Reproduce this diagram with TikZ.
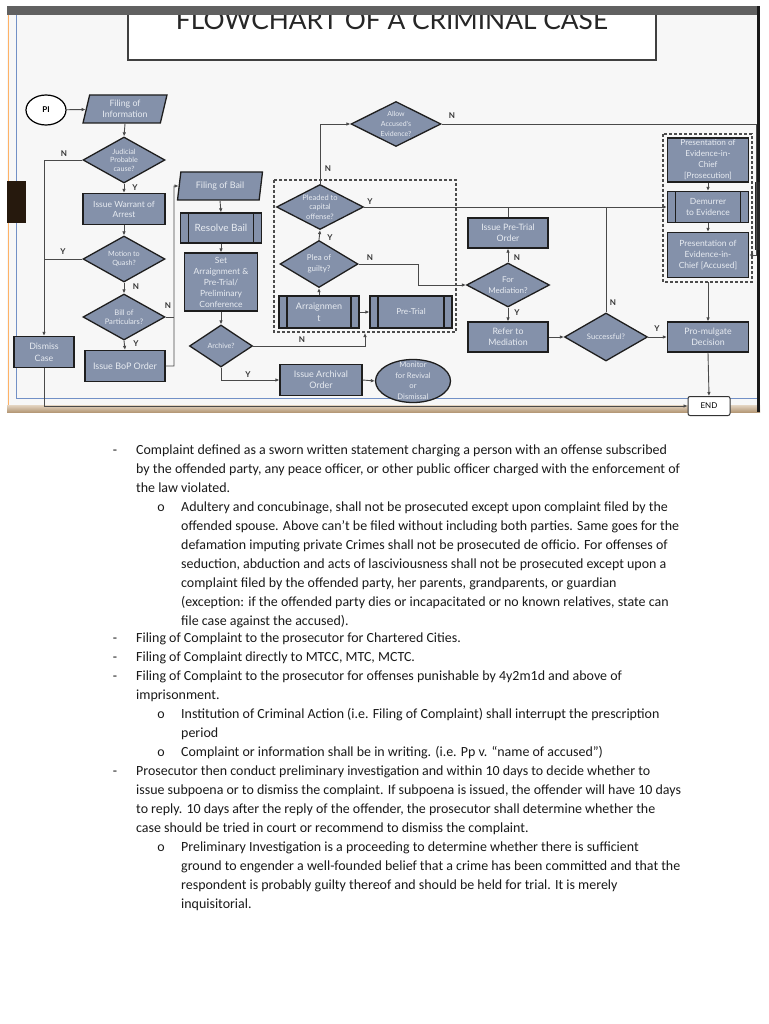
\documentclass[tikz,border=0pt]{standalone}
\usepackage{fontspec}
\usepackage{graphicx}
\setmainfont{Carlito}
\newfontfamily\fcfont{Lato}
\usetikzlibrary{shapes.geometric,arrows.meta}
\definecolor{fcfill}{HTML}{8491AA}
\definecolor{fctext}{HTML}{E8ECF2}
\definecolor{fcline}{HTML}{1E1E1E}
\definecolor{conn}{HTML}{4A4A4A}
\definecolor{imgbg}{HTML}{F7F7F7}
\definecolor{bluel}{HTML}{7290C6}
\definecolor{tanst}{HTML}{C9AA85}
\definecolor{bodyt}{HTML}{1A1A1A}
\begin{document}
\begin{tikzpicture}[x=1pt,y=-1pt,
  fs/.style 2 args={font=\fcfont\fontsize{#1}{#2}\selectfont},
  shp/.style={draw=fcline, line width=1.3pt, fill=fcfill, text=fctext,
    fs={8.5}{10}, align=center, inner sep=0pt},
  boxn/.style={shp, rectangle},
  dia/.style={shp, diamond},
  dtext/.style={text=fctext, fs={7.2}{8.6}, align=center, inner sep=0pt},
  par/.style={shp, trapezium, trapezium left angle=76, trapezium right angle=104, trapezium stretches=true},
  proc/.style={shp, rectangle, path picture={
      \draw[fcline, line width=1.2pt]
        ([xshift=8pt]path picture bounding box.north west) -- ([xshift=8pt]path picture bounding box.south west)
        ([xshift=-8pt]path picture bounding box.north east) -- ([xshift=-8pt]path picture bounding box.south east);}},
  cn/.style={draw=conn, line width=0.9pt},
  arr/.style={cn, -{Latex[length=4pt,width=3.6pt]}},
  yn/.style={font=\fcfont\bfseries\fontsize{8}{9}\selectfont, text=black!80, inner sep=0pt},
  dashbox/.style={draw=black!70, line width=1.2pt, dash pattern=on 3pt off 2pt},
  txt/.style={anchor=base west, inner sep=0pt, text=bodyt, font=\fontsize{13.95}{19}\selectfont},
  bul/.style={anchor=base, inner sep=0pt, text=bodyt, font=\fontsize{13.95}{19}\selectfont}
]
\useasboundingbox (0,0) rectangle (768,1024);
\fill[white] (0,0) rectangle (768,1024);

% ---------- embedded flowchart image background ----------
\fill[imgbg] (7,6) rectangle (760,412);
\fill[white] (128,15) rectangle (656,60);
\draw[black!75, line width=1.1pt] (128,12) -- (128,60) -- (656,60) -- (656,12);
\node[inner sep=0pt, text=black!85] (title) at (392,20.5) {\resizebox{432pt}{!}{\fcfont FLOWCHART OF A CRIMINAL CASE}};
\fill[black!62] (7,6) rectangle (760,15);
\draw[bluel, line width=0.8pt] (16,15) -- (16,398) -- (757,398);
\draw[orange!60, line width=0.8pt] (8,15) -- (8,406);
\fill[black!80!brown] (7,181) rectangle (26,223);
\shade[top color=tanst!50, bottom color=tanst!90!black] (7,405) rectangle (760,412);
\fill[black!90] (757,6) rectangle (760,412);
\fill[black!85] (755,182) rectangle (760,250);

% ---------- dashed groups ----------
\draw[dashbox] (274,180) rectangle (456,332);
\draw[dashbox] (663,134) rectangle (752,282);

% ---------- nodes ----------
\node[draw=black, line width=1.2pt, fill=white, ellipse, minimum width=40, minimum height=30,
      font=\fcfont\bfseries\fontsize{8}{9}\selectfont, inner sep=0pt] (pi) at (46,110) {PI};
\node[par, minimum width=84, minimum height=28, fs={8.8}{10.5}] (fi) at (125,109) {Filing of\\Information};
\node[dia, minimum width=82, minimum height=46, label={[dtext]center:{Judicial\\Probable\\cause?}}] (jpc) at (124,160) {};
\node[boxn, minimum width=82, minimum height=31] (iwa) at (124,209) {Issue Warrant of\\Arrest};
\node[dia, minimum width=82, minimum height=46, label={[dtext]center:{Motion to\\Quash?}}] (mtq) at (124,259) {};
\node[dia, minimum width=82, minimum height=46, label={[dtext, fs={7.6}{9.5}]center:{Bill of\\Particulars?}}] (bop) at (124,317) {};
\node[boxn, minimum width=80, minimum height=31, fs={9}{10}] (ibo) at (125,366) {Issue BoP Order};
\node[boxn, minimum width=60, minimum height=31, fs={8.8}{12}] (dis) at (44,352) {Dismiss\\Case};

\node[par, minimum width=85, minimum height=28, fs={9}{10}] (fb) at (220,186) {Filing of Bail};
\node[proc, minimum width=81, minimum height=30, fs={10}{11}] (rb) at (221,228) {Resolve Bail};
\node[boxn, minimum width=73, minimum height=58, fs={8.5}{11}] (sa) at (221,282) {Set\\Arraignment \&\\Pre-Trial/\\Preliminary\\Conference};
\node[dia, minimum width=63, minimum height=42, label={[dtext]center:{Archive?}}] (arc) at (221,346) {};
\node[boxn, minimum width=82, minimum height=31, fs={9}{11}] (iao) at (321,380) {Issue Archival\\Order};
\node[shp, ellipse, minimum width=75, minimum height=43, label={[dtext, fs={7.6}{10.5}]center:{Monitor\\for Revival\\or\\Dismissal}}] (mon) at (413,381) {};

\node[dia, minimum width=87, minimum height=45, label={[dtext, fs={7.5}{9.5}]center:{Pleaded to\\capital\\offense?}}] (pco) at (320,207) {};
\node[dia, minimum width=78, minimum height=47, label={[dtext, fs={8}{11}]center:{Plea of\\guilty?}}] (pog) at (319,264) {};
\node[proc, minimum width=80, minimum height=32, fs={9}{12}] (arr) at (319,312) {Arraignmen\\t};
\node[proc, minimum width=82, minimum height=32, fs={8.2}{10}] (pt) at (411,312) {Pre-Trial};
\node[dia, minimum width=90, minimum height=45, label={[dtext, fs={7}{10}]center:{Allow\\Accused's\\Evidence?}}] (aae) at (396,124) {};

\node[boxn, minimum width=80, minimum height=30, fs={8.8}{11}] (ipo) at (508,233) {Issue Pre-Trial\\Order};
\node[dia, minimum width=83, minimum height=44, label={[dtext, fs={8}{11}]center:{For\\Mediation?}}] (fm) at (508,285) {};
\node[boxn, minimum width=80, minimum height=30, fs={8.8}{11}] (rm) at (508,337) {Refer to\\Mediation};
\node[dia, minimum width=83, minimum height=48, label={[dtext, fs={7.6}{9}]center:{Successful?}}] (suc) at (606,337) {};
\node[boxn, minimum width=81, minimum height=30, fs={8.8}{11}] (pd) at (708,337) {Pro-mulgate\\Decision};

\node[boxn, minimum width=81, minimum height=44, fs={8.2}{11}] (pep) at (708,160) {Presentation of\\Evidence-in-\\Chief\\{[}Prosecution{]}};
\node[proc, minimum width=81, minimum height=31, fs={8.5}{11}] (dem) at (708,207) {Demurrer\\to Evidence};
\node[boxn, minimum width=81, minimum height=45, fs={8.5}{11}] (pea) at (708,255) {Presentation of\\Evidence-in-\\Chief {[}Accused{]}};
\node[draw=black!80, line width=1pt, fill=white, rounded corners=2pt, minimum width=42, minimum height=19,
      fs={8}{9}, inner sep=0pt] (end) at (709,406) {END};

\coordinate (dbb) at (708,282);
\coordinate (arcup) at (365,333);

% ---------- connectors ----------
\draw[arr] (pi) -- (fi);
\draw[arr] (fi.south) -- (jpc.north);
\draw[arr] (jpc.south) -- (iwa.north);
\draw[arr] (jpc.west) -- (44,160) -- (dis.north);
\draw[cn] (mtq.west) -- (44,259);
\draw[arr] (iwa.south) -- (mtq.north);
\draw[arr] (mtq.south) -- (bop.north);
\draw[arr] (bop.south) -- (ibo.north);
\draw[cn] (bop.east) -- (174,317);
\draw[arr] (ibo.east) -- (174,366) -- (174,186) -- (fb.west);
\draw[arr] (fb.south) -- (rb.north);
\draw[arr] (rb.south) -- (sa.north);
\draw[arr] (sa.south) -- (arc.north);
\draw[arr] (arc.east) -- (365,346) -- (arcup);
\draw[arr] (arc.south) -- (221,380) -- (iao.west);
\draw[arr] (iao.east) -- (mon.west);
\draw[arr] (dis.south) -- (44,406) -- (end.west);

\draw[arr] (pco.north) -- (320,124) -- (aae.west);
\draw[arr] (pco.east) -- (dem.west);
\draw[arr] (pog.north) -- (pco.south);
\draw[arr] (arr.north) -- (pog.south);
\draw[arr] (arr.east) -- (pt.west);
\draw[arr] (pog.east) -- (418,264) -- (418,285) -- (fm.west);
\draw[arr] (aae.east) -- (756,124) -- (756,255) -- (pea.east);

\draw[arr] (fm.north) -- (ipo.south);
\draw[cn] (ipo.north) -- (508,207);
\draw[arr] (fm.south) -- (rm.north);
\draw[arr] (rm.east) -- (suc.west);
\draw[cn] (suc.north) -- (606,207);
\draw[arr] (suc.east) -- (pd.west);
\draw[arr] (pep.south) -- (dem.north);
\draw[arr] (dem.south) -- (pea.north);
\draw[arr] (dbb) -- (pd.north);
\draw[arr] (pd.south) -- (end.north);

% ---------- Y / N labels ----------
\node[yn] (l1) at (64,154) {N};
\node[yn] (l2) at (135,188) {Y};
\node[yn] (l3) at (63,252) {Y};
\node[yn] (l4) at (136,287) {N};
\node[yn] (l5) at (168,306) {N};
\node[yn] (l6) at (136,344) {Y};
\node[yn] (l7) at (302,340) {N};
\node[yn] (l8) at (248,375) {Y};
\node[yn] (l9) at (328,169) {N};
\node[yn] (l10) at (370,202) {Y};
\node[yn] (l11) at (330,238) {Y};
\node[yn] (l12) at (370,258) {N};
\node[yn] (l13) at (452,116) {N};
\node[yn] (l14) at (517,258) {N};
\node[yn] (l15) at (517,313) {Y};
\node[yn] (l16) at (613,303) {N};
\node[yn] (l17) at (657,329) {Y};

% ---------- body text ----------
\node[bul] (b1) at (115,454) {-};
\node[txt] (t1) at (136,454) {Complaint defined as a sworn written statement charging a person with an offense subscribed};
\node[txt] (t2) at (136,473) {by the offended party, any peace officer, or other public officer charged with the enforcement of};
\node[txt] (t3) at (136,492) {the law violated.};
\node[bul] (b2) at (161,511) {o};
\node[txt] (t4) at (181,511) {Adultery and concubinage, shall not be prosecuted except upon complaint filed by the};
\node[txt] (t5) at (181,530) {offended spouse. Above can't be filed without including both parties. Same goes for the};
\node[txt] (t6) at (181,549) {defamation imputing private Crimes shall not be prosecuted de officio. For offenses of};
\node[txt] (t7) at (181,568) {seduction, abduction and acts of lasciviousness shall not be prosecuted except upon a};
\node[txt] (t8) at (181,587) {complaint filed by the offended party, her parents, grandparents, or guardian};
\node[txt] (t9) at (181,606) {(exception: if the offended party dies or incapacitated or no known relatives, state can};
\node[txt] (t10) at (181,625) {file case against the accused).};
\node[bul] (b3) at (115,642) {-};
\node[txt] (t11) at (136,642) {Filing of Complaint to the prosecutor for Chartered Cities.};
\node[bul] (b4) at (115,661) {-};
\node[txt] (t12) at (136,661) {Filing of Complaint directly to MTCC, MTC, MCTC.};
\node[bul] (b5) at (115,680) {-};
\node[txt] (t13) at (136,680) {Filing of Complaint to the prosecutor for offenses punishable by 4y2m1d and above of};
\node[txt] (t14) at (136,699) {imprisonment.};
\node[bul] (b6) at (161,718) {o};
\node[txt] (t15) at (181,718) {Institution of Criminal Action (i.e. Filing of Complaint) shall interrupt the prescription};
\node[txt] (t16) at (181,737) {period};
\node[bul] (b7) at (161,756) {o};
\node[txt] (t17) at (181,756) {Complaint or information shall be in writing. (i.e. Pp v. “name of accused”)};
\node[bul] (b8) at (115,775) {-};
\node[txt] (t18) at (136,775) {Prosecutor then conduct preliminary investigation and within 10 days to decide whether to};
\node[txt] (t19) at (136,794) {issue subpoena or to dismiss the complaint. If subpoena is issued, the offender will have 10 days};
\node[txt] (t20) at (136,813) {to reply. 10 days after the reply of the offender, the prosecutor shall determine whether the};
\node[txt] (t21) at (136,832) {case should be tried in court or recommend to dismiss the complaint.};
\node[bul] (b9) at (161,851) {o};
\node[txt] (t22) at (181,851) {Preliminary Investigation is a proceeding to determine whether there is sufficient};
\node[txt] (t23) at (181,870) {ground to engender a well-founded belief that a crime has been committed and that the};
\node[txt] (t24) at (181,889) {respondent is probably guilty thereof and should be held for trial. It is merely};
\node[txt] (t25) at (181,908) {inquisitorial.};
\end{tikzpicture}
\end{document}
